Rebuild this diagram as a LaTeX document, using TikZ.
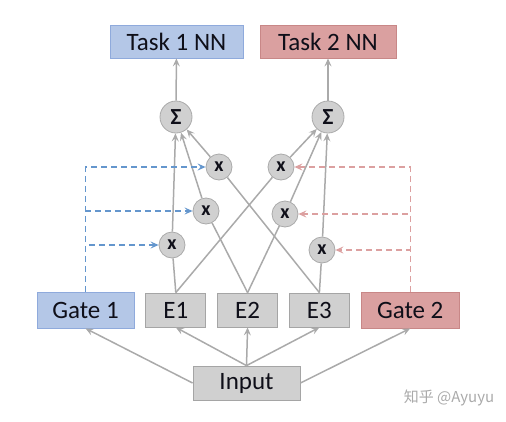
\documentclass[tikz,border=0pt]{standalone}
\usepackage{fontspec}
\setmainfont{Carlito}
\newfontfamily\cjk{Noto Sans CJK SC}
\usetikzlibrary{arrows.meta,positioning}

\definecolor{ink}{RGB}{15,15,25}
\definecolor{boxfill}{RGB}{208,208,208}
\definecolor{boxline}{RGB}{165,165,165}
\definecolor{bluefill}{RGB}{180,199,231}
\definecolor{blueline}{RGB}{143,170,220}
\definecolor{bluedash}{RGB}{100,150,205}
\definecolor{redfill}{RGB}{218,160,160}
\definecolor{redline}{RGB}{200,135,135}
\definecolor{reddash}{RGB}{220,160,160}
\definecolor{wiregray}{RGB}{170,170,170}

\begin{document}
\begin{tikzpicture}[x=1pt,y=-1pt,
  block/.style={draw=boxline,fill=boxfill,rectangle,minimum height=34pt,inner sep=0pt,
    line width=0.8pt,text=ink,font=\fontsize{25}{28}\selectfont},
  expert/.style={block,minimum width=60pt},
  bluebox/.style={block,fill=bluefill,draw=blueline},
  redbox/.style={block,fill=redfill,draw=redline},
  mult/.style={circle,draw=wiregray,fill=boxfill,minimum size=26pt,inner sep=0pt,
    line width=0.8pt,text=ink,font=\fontsize{20}{20}\selectfont\bfseries},
  summ/.style={mult,minimum size=32pt,font=\fontsize{23}{24}\selectfont\bfseries},
  wire/.style={draw=wiregray,line width=1.5pt},
  link/.style={wire,-{Stealth[length=8pt,width=7pt,inset=3pt]}},
  dash1/.style={draw=bluedash,line width=1.4pt,dash pattern=on 6pt off 4pt,
    -{Stealth[length=8pt,width=7pt,inset=3pt]}},
  dash2/.style={dash1,draw=reddash}]

  \useasboundingbox (0,0) rectangle (506,421);

  % bottom row
  \node[bluebox,minimum width=97pt,minimum height=36pt] (G1) at (85.5,310) {Gate 1};
  \node[expert] (E1) [right = 11pt of G1] {E1};
  \node[expert] (E2) [right = 11pt of E1] {E2};
  \node[expert] (E3) [right = 11pt of E2] {E3};
  \node[redbox,minimum width=98pt,minimum height=36pt] (G2) [right = 11pt of E3] {Gate 2};
  \node[block,minimum width=107pt] (In) at (246.5,383) {Input};

  % towers
  \node[bluebox,minimum width=133pt,minimum height=33pt] (T1) at (176.5,41.5) {Task 1 NN};
  \node[redbox,minimum width=136pt,minimum height=33pt] (T2) at (328,41.5) {Task 2 NN};
  \node[summ] (S1) at (176,117) {Σ};
  \node[summ] (S2) at (328,117) {Σ};

  % gated experts
  \node[mult] (L1) at (219,167) {x};
  \node[mult] (L2) at (206,211) {x};
  \node[mult] (L3) at (172,245) {x};
  \node[mult] (R1) at (281,167) {x};
  \node[mult] (R2) at (285,214) {x};
  \node[mult] (R3) at (322,250) {x};

  \node[text=wiregray,font=\cjk\fontsize{15}{16}\selectfont] (WM) at (449,398) {知乎 @Ayuyu};

  \draw[link] (In.west) -- (G1.south);
  \draw[link] (In.north) -- (E1.south);
  \draw[link] (In.north) -- (E2.south);
  \draw[link] (In.north) -- (E3.south);
  \draw[link] (In.east) -- (G2.south);

  \draw[wire] (E1.north) -- (L3); \draw[link] (L3) -- (S1);
  \draw[wire] (E2.north) -- (L2); \draw[link] (L2) -- (S1);
  \draw[wire] (E3.north) -- (L1); \draw[link] (L1) -- (S1);
  \draw[wire] (E1.north) -- (R1); \draw[link] (R1) -- (S2);
  \draw[wire] (E2.north) -- (R2); \draw[link] (R2) -- (S2);
  \draw[wire] (E3.north) -- (R3); \draw[link] (R3) -- (S2);

  \draw[link] (S1) -- (T1);
  \draw[link] (S2) -- (T2);

  \draw[dash1] (G1.north) |- (L1);
  \draw[dash1] (G1.north) |- (L2);
  \draw[dash1] (G1.north) |- (L3);
  \draw[dash2] (G2.north) |- (R1);
  \draw[dash2] (G2.north) |- (R2);
  \draw[dash2] (G2.north) |- (R3);
\end{tikzpicture}
\end{document}
